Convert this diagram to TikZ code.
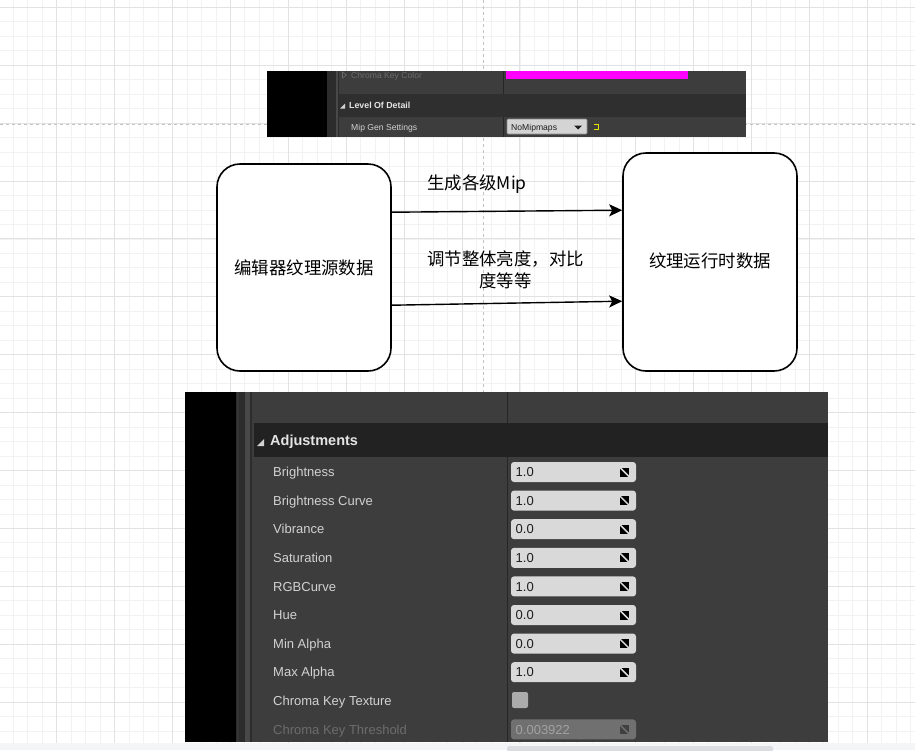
\documentclass[tikz,border=0pt]{standalone}
\usepackage{fontspec}
\setmainfont{Liberation Sans}
\newfontfamily\cjk{Noto Sans CJK SC}
\usetikzlibrary{arrows.meta,calc}
\definecolor{gridminor}{HTML}{F2F2F2}
\definecolor{gridmajor}{HTML}{E2E2E2}
\definecolor{guide}{HTML}{C2C2C2}
\definecolor{pale}{HTML}{F4F5F7}
\definecolor{thumb}{HTML}{DCDDE0}
\definecolor{panel}{HTML}{3D3D3D}
\definecolor{hdrtop}{HTML}{2F2F2F}
\definecolor{hdrbot}{HTML}{222222}
\definecolor{sepdark}{HTML}{2C2C2C}
\definecolor{seplight}{HTML}{494949}
\definecolor{coldiv}{HTML}{262626}
\definecolor{labtxt}{HTML}{D2D2D2}
\definecolor{dimtxt}{HTML}{6C6C6C}
\definecolor{valbg}{HTML}{D9D9D9}
\definecolor{valtxt}{HTML}{1E1E1E}
\definecolor{disbg}{HTML}{707070}
\definecolor{distxt}{HTML}{A2A2A2}
\definecolor{chk}{HTML}{ABABAB}
\definecolor{magentabar}{HTML}{FF00FF}
\definecolor{ddbg}{HTML}{D4D4D4}
\definecolor{ddborder}{HTML}{8A8A8A}
\definecolor{yel}{HTML}{E8E000}
\begin{document}
\begin{tikzpicture}[x=1pt,y=-1pt,
  procbox/.style={draw, line width=1.6pt, rounded corners=23pt, fill=white, inner sep=0pt,
    font=\cjk\fontsize{17.4}{21.6}\selectfont},
  elabel/.style={font=\cjk\fontsize{17.4}{21.6}\selectfont, align=center, inner sep=0pt},
  conn/.style={draw, line width=1.4pt, -{Stealth[length=13pt,width=12pt,inset=3pt]}},
  uilab/.style={anchor=base west, inner sep=0pt, text=labtxt, font=\fontsize{13}{15}\selectfont},
  uival/.style={anchor=base west, inner sep=0pt, text=valtxt, font=\fontsize{13}{15}\selectfont},
  smlab/.style={anchor=base west, inner sep=0pt, text=labtxt, font=\fontsize{8.6}{10}\selectfont},
  valbox/.style={fill=valbg, rounded corners=3pt}
]
\useasboundingbox (0,0) rectangle (915,750);
\fill[white] (0,0) rectangle (915,750);
% grid
\foreach \k in {0,...,62} {\draw[gridminor, line width=0.8pt] ({13.275+14.475*\k},0) -- ({13.275+14.475*\k},743);}
\foreach \k in {0,...,51} {\draw[gridminor, line width=0.8pt] (0,{7.3+14.475*\k}) -- (915,{7.3+14.475*\k});}
\foreach \k in {-1,...,15} {\draw[gridmajor, line width=0.9pt] ({56.7+57.9*\k},0) -- ({56.7+57.9*\k},743);}
\foreach \k in {0,...,12} {\draw[gridmajor, line width=0.9pt] (0,{7.3+57.9*\k}) -- (915,{7.3+57.9*\k});}
% guides
\draw[guide, line width=0.8pt, dash pattern=on 3pt off 3pt] (0,124) -- (915,124);
\draw[guide, line width=0.8pt, dash pattern=on 3pt off 3pt] (483,0) -- (483,743);
% bottom strip and scrollbar
\fill[pale] (0,743) rectangle (915,750);
\fill[thumb, rounded corners=2pt] (507,746) rectangle (773,752);

% ---------- top screenshot ----------
\begin{scope}
\clip (267,71) rectangle (746,137);
\fill[panel] (267,71) rectangle (746,137);
\fill[black] (267,71) rectangle (327,137);
\fill[sepdark] (327,71) rectangle (339,137);
\fill[seplight] (336,71) rectangle (338,137);
\fill[hdrtop] (339,94) rectangle (746,117);
\draw[coldiv, line width=1pt] (503,71) -- (503,94);
\draw[coldiv, line width=1pt] (503,117) -- (503,137);
\fill[magentabar] (506,70) rectangle (688,79);
\draw[dimtxt, line width=0.6pt] (342.5,72) -- (342.5,78) -- (346.5,75) -- cycle;
\node[smlab, text=dimtxt] (ckc) at (351,78) {Chroma Key Color};
\fill[labtxt] (340,108.5) -- (345,108.5) -- (345,103.5) -- cycle;
\node[smlab, font=\bfseries\fontsize{8.8}{10}\selectfont, text=white!90!black] (lod) at (349,108.5) {Level Of Detail};
\node[smlab] (mgs) at (351,130.5) {Mip Gen Settings};
\draw[ddborder, fill=ddbg, line width=0.6pt, rounded corners=1pt] (507,119) rectangle (587,134);
\node[smlab, text=valtxt] (nomip) at (511,130.5) {NoMipmaps};
\fill[valtxt] (574,125.5) -- (582,125.5) -- (578,129.5) -- cycle;
\draw[yel, line width=1pt] (594,124.5) -- (598,124.5) -- (598,129) -- (594,129);
\end{scope}

% ---------- bottom screenshot ----------
\fill[panel] (185,392) rectangle (828,742);
\fill[black] (185,392) rectangle (236,742);
\fill[sepdark] (236,392) rectangle (252,742);
\fill[panel!85!black] (237,392) rectangle (239,742);
\fill[seplight] (245,392) rectangle (250,742);
\fill[hdrbot] (254,423) rectangle (828,457);
\draw[coldiv, line width=1pt] (507,392) -- (507,423);
\draw[coldiv, line width=1pt] (507,457) -- (507,742);
\fill[labtxt] (257,446) -- (264,446) -- (264,439) -- cycle;
\node[anchor=base west, inner sep=0pt, text=white!90!black, font=\bfseries\fontsize{14.5}{17}\selectfont] (adj) at (270,445.4) {Adjustments};
\foreach \lab/\val [count=\i from 0] in {Brightness/1.0, Brightness Curve/1.0, Vibrance/0.0, Saturation/1.0, RGBCurve/1.0, Hue/0.0, Min Alpha/0.0, Max Alpha/1.0} {
  \pgfmathsetmacro\yy{472+28.6*\i}
  \node[uilab] (lab\i) at (273,\yy+4.7) {\lab};
  \fill[valbox] (511,\yy-10) rectangle (636,\yy+10);
  \node[uival] (val\i) at (515.5,\yy+4.7) {\val};
  \fill[black] (620,\yy-4.5) rectangle (629,\yy+4.5);
  \draw[valbg, line width=1.5pt] (619.5,\yy-5) -- (629.5,\yy+5);
}
% Chroma Key Texture
\node[uilab] (lab8) at (273,705.5) {Chroma Key Texture};
\fill[chk, rounded corners=2pt] (512,692) rectangle (528,708);
% Chroma Key Threshold
\node[uilab, text=dimtxt] (lab9) at (273,734.1) {Chroma Key Threshold};
\fill[disbg, rounded corners=3pt] (511,719.4) rectangle (636,739.4);
\node[uival, text=distxt] (val9) at (515.5,734.1) {0.003922};
\fill[black!75] (620,724.9) rectangle (629,733.9);
\draw[disbg, line width=1.5pt] (619.5,724.4) -- (629.5,734.4);

% ---------- diagram ----------
\node[procbox, minimum width=174pt, minimum height=207pt] (src) at (304,267.5) {};
\node[font=\cjk\fontsize{17.4}{21.6}\selectfont, inner sep=0pt] (srct) at (304,268) {编辑器纹理源数据};
\node[procbox, minimum width=174pt, minimum height=218pt] (rt) at (710,262) {};
\node[font=\cjk\fontsize{17.4}{21.6}\selectfont, inner sep=0pt] (rtt) at (710,261) {纹理运行时数据};
\draw[conn] ($(src.north east)+(0,49)$) -- ($(rt.north west)+(0,58)$);
\draw[conn] ($(src.north east)+(0,142)$) -- ($(rt.north west)+(0,149)$);
\node[elabel] (l1) at (477,184) {生成各级Mip};
\node[elabel] (l2) at (505.5,270) {调节整体亮度，对比\\度等等};
\end{tikzpicture}
\end{document}
